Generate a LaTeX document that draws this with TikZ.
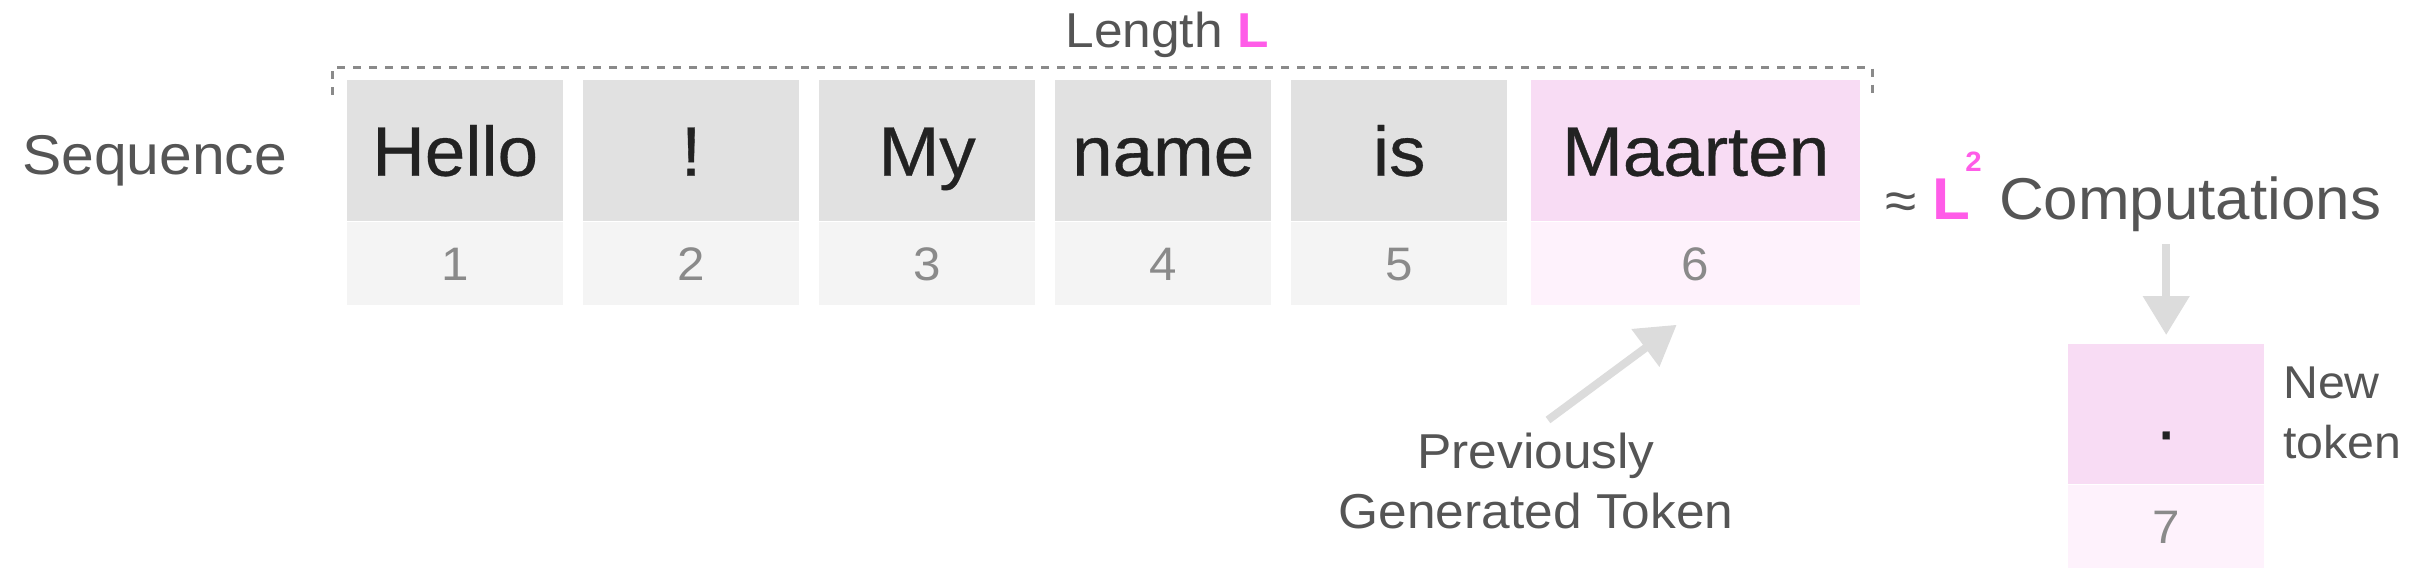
\documentclass[tikz,border=0pt]{standalone}
\usepackage{fontspec}
\setmainfont[FakeStretch=1.05]{Liberation Sans}
\newfontfamily\tokfont[FakeBold=0.5,FakeStretch=1.04]{Liberation Sans}
\usetikzlibrary{arrows.meta,calc,positioning}
\definecolor{tokgray}{HTML}{E1E1E1}
\definecolor{posgray}{HTML}{F4F4F4}
\definecolor{tokpink}{HTML}{F8DCF4}
\definecolor{pospink}{HTML}{FEF2FC}
\definecolor{lpink}{HTML}{FF5CE8}
\definecolor{txtdark}{HTML}{222222}
\definecolor{txtgray}{HTML}{555555}
\definecolor{numgray}{HTML}{8A8A8A}
\definecolor{arrgray}{HTML}{DCDCDC}
\tikzset{
  tokbox/.style={rectangle, fill=tokgray, minimum width=216pt, minimum height=141pt, inner sep=0pt,
    text=txtdark, font=\tokfont\fontsize{70}{80}\selectfont, text height=50pt, text depth=0pt},
  posbox/.style={rectangle, fill=posgray, minimum width=216pt, minimum height=83pt, inner sep=0pt,
    text=numgray, font=\fontsize{47}{54}\selectfont, text height=34pt, text depth=0pt},
  lbl/.style={inner sep=0pt, text=txtgray},
  bigarrow/.style={draw=arrgray, line width=8pt, -{Triangle[width=45pt,length=39pt]}},
  bracket/.style={draw=numgray, line width=3pt, dash pattern=on 8pt off 8pt}
}
\begin{document}
\begin{tikzpicture}[x=1pt,y=-1pt]
\useasboundingbox (0,0) rectangle (2420,580);
% the sequence so far
\foreach \i/\name/\word in {1/hello/Hello,2/excl/!,3/my/My,4/nm/name,5/is/is}{
  \node[tokbox, anchor=north west] (\name) at ({347+(\i-1)*236},80) {\word};
  \node[posbox, anchor=north] (n\i) at (\name.south) {\i};
}
\node[tokbox, fill=tokpink, minimum width=329pt, anchor=north west] (maarten) at (1531,80) {Maarten};
\node[posbox, fill=pospink, minimum width=329pt, anchor=north] (n6) at (maarten.south) {6};
\node[lbl, anchor=base west, font=\fontsize{56}{64}\selectfont] (seq) at (22,175) {Sequence};
% length bracket
\draw[bracket] ($(hello.north west)+(-15,15)$) |- ($(maarten.north east)+(12,-12)$) -- ++(0,27);
\node[lbl, anchor=base, font=\fontsize{49}{56}\selectfont] (len) at (1167,48) {Length {\bfseries\color{lpink}L}};
% computations and the new token
\node[lbl, anchor=base west, font=\fontsize{59}{66}\selectfont] (comp) at (1885,219)
  {{\fontsize{54}{60}\selectfont ≈}\hspace{16pt}{\bfseries\color{lpink}L\kern-0.08em\raisebox{0.8em}{\fontsize{28}{30}\selectfont 2}} Computations};
\node[tokbox, fill=tokpink, minimum width=196pt, minimum height=140pt, anchor=north west] (newtok) at (2068,344) {.};
\node[posbox, fill=pospink, minimum width=196pt, anchor=north] (n7) at (newtok.south) {7};
\node[lbl, anchor=north west, align=left, font=\fontsize{46}{60}\selectfont] (newlbl) at (2283,367) {New\\token};
\draw[bigarrow] (newtok.north |- comp.south) ++(0,13) -- ($(newtok.north)+(0,-9)$);
% previously generated token
\node[lbl, anchor=north, align=center, font=\fontsize{49}{60}\selectfont] (prev) at (1536,433) {Previously\\Generated Token};
\draw[bigarrow] ($(prev.north)+(12,-13)$) -- ($(n6.south)+(-19,20)$);
\end{tikzpicture}
\end{document}
